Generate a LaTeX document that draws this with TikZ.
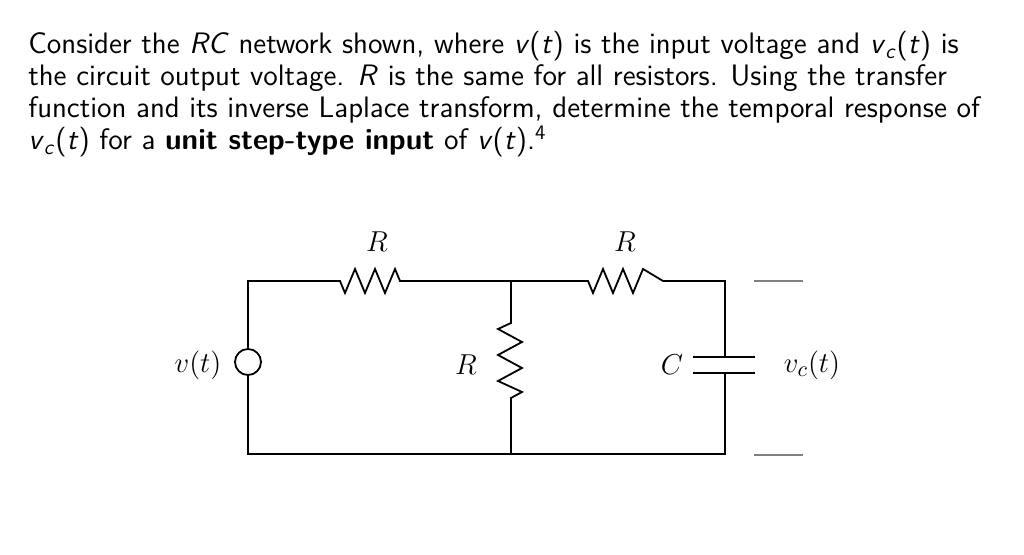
\documentclass[tikz,border=0pt]{standalone}
\usepackage{amsmath}
\newcommand{\sv}{\textit{v}\textsf{(}\textit{t}\textsf{)}}
\newcommand{\svc}{\textit{v}\textsubscript{\textit{c}}\textsf{(}\textit{t}\textsf{)}}
\begin{document}
\begin{tikzpicture}[x=0.5pt,y=-0.5pt,wire/.style={line width=0.9pt},
 txt/.style={anchor=base west,inner sep=0pt,font=\sffamily\fontsize{14.8}{16}\selectfont},
 lab/.style={font=\fontsize{15}{17}\selectfont}]
\useasboundingbox (0,0) rectangle (1024,555);
\node[txt] (l1) at (28,54) {Consider the \textit{RC} network shown, where \sv{} is the input voltage and \svc{} is};
\node[txt] (l2) at (28,86) {the circuit output voltage. \textit{R} is the same for all resistors. Using the transfer};
\node[txt] (l3) at (28,118) {function and its inverse Laplace transform, determine the temporal response of};
\node[txt] (l4) at (28,150) {\svc{} for a \textbf{unit step-type input} of \sv.$^{\text{4}}$};
\coordinate (tl) at (248,281);
\coordinate (bl) at (248,454);
\coordinate (tm) at (511,281);
\coordinate (bm) at (511,454);
\coordinate (tr) at (725,281);
\coordinate (br) at (725,454);
\node[circle,draw,wire,minimum size=13pt,inner sep=0pt] (src) at (248,362) {};
\draw[wire] (src.north) -- (tl) -- (340,281) -- (345,293) -- (355,269) -- (365,293) -- (375,269) -- (385,293) -- (395,269) -- (400,281) -- (tm) -- (588,281) -- (593,293) -- (603,269) -- (613,293) -- (623,269) -- (633,293) -- (643,269) -- (663,281) -- (tr) -- (725,357);
\draw[wire] (src.south) -- (bl) -- (bm) -- (br) -- (725,373);
\draw[wire] (tm) -- (511,323) -- (498,329) -- (522,342) -- (498,355) -- (522,368) -- (498,381) -- (522,392) -- (511,398) -- (bm);
\draw[wire] (693,357) -- (755,357);
\draw[wire] (693,373) -- (755,373);
\draw[gray,line width=0.6pt] (754,281) -- (803,281);
\draw[gray,line width=0.6pt] (754,455) -- (803,455);
\node[lab] (r1) at (377,242) {$R$};
\node[lab] (r2) at (625,242) {$R$};
\node[lab] (r3) at (466,365) {$R$};
\node[lab] (c) at (672,365) {$C$};
\node[lab] (v) at (198,365) {$v(t)$};
\node[lab] (vc) at (812,365) {$v_c(t)$};
\end{tikzpicture}
\end{document}
